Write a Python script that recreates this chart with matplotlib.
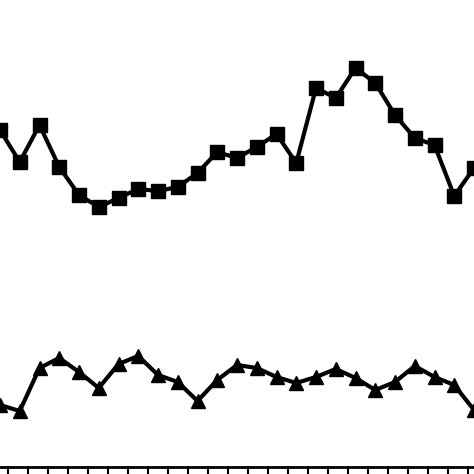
import matplotlib
matplotlib.use("Agg")
import matplotlib.pyplot as plt
import numpy as np

squares = [130,162,125,167,195,207,198,189,191,187,173,152,158,147,134,163,88,98,68,83,115,138,145,196,168]
triangles = [405,411,368,358,372,388,364,356,375,382,401,380,365,368,377,383,377,369,378,390,382,366,377,385,410]
x = np.arange(len(squares))

fig = plt.figure(figsize=(4.74,4.74), dpi=100)
ax = fig.add_axes([0,0,1,1])
ax.plot(x, squares, 'k-', marker='s', ms=10, lw=3, clip_on=True)
ax.plot(x, triangles, 'k-', marker='^', ms=10, lw=3, clip_on=True)
sp = 474/24
ax.set_xlim(0, 24)
ax.set_ylim(474, 0)
ax.axhline(467, color='k', lw=2)
for t in np.arange(8/sp, 24, 20/sp):
    ax.plot([t,t],[467,474],'k-',lw=1.5)
ax.axis('off')
fig.savefig("out.png", dpi=100)
